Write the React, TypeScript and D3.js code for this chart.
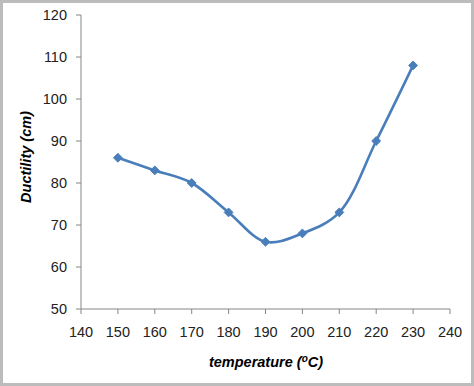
import React, { useEffect, useRef } from 'react';
import * as d3 from 'd3';

const temperatures = [150, 160, 170, 180, 190, 200, 210, 220, 230];
const ductility = [86, 83, 80, 73, 66, 68, 73, 90, 108];
const xTicks = [140, 150, 160, 170, 180, 190, 200, 210, 220, 230, 240];
const yTicks = [50, 60, 70, 80, 90, 100, 110, 120];

export default function App() {
  const svgRef = useRef<SVGSVGElement>(null);

  useEffect(() => {
    if (!svgRef.current) return;
    const svg = d3.select(svgRef.current);
    svg.selectAll('*').remove();

    const width = 474;
    const height = 386;
    const font = '"Liberation Sans", Arial, sans-serif';
    const axisColor = '#868686';
    const lineColor = '#4a7ebb';

    // outer frame
    svg.append('rect')
      .attr('x', 1.5).attr('y', 1.5)
      .attr('width', width - 3).attr('height', height - 3)
      .attr('fill', '#fff')
      .attr('stroke', '#bcbcbc')
      .attr('stroke-width', 3);

    const x = d3.scaleLinear().domain([140, 240]).range([81, 450]);
    const y = d3.scaleLinear().domain([50, 120]).range([309, 15]);

    // y axis
    svg.append('line')
      .attr('x1', x(140)).attr('x2', x(140))
      .attr('y1', y(50)).attr('y2', y(120))
      .attr('stroke', axisColor).attr('stroke-width', 1);
    svg.selectAll('.ytick')
      .data(yTicks)
      .enter()
      .append('line')
      .attr('x1', x(140) - 5).attr('x2', x(140))
      .attr('y1', d => y(d)).attr('y2', d => y(d))
      .attr('stroke', axisColor);
    svg.selectAll('.ylab')
      .data(yTicks)
      .enter()
      .append('text')
      .attr('x', x(140) - 14)
      .attr('y', d => y(d))
      .attr('dy', '0.36em')
      .attr('text-anchor', 'end')
      .style('font-family', font)
      .style('font-size', '14.5px')
      .style('fill', '#222')
      .text(d => d);

    // x axis
    svg.append('line')
      .attr('x1', x(140)).attr('x2', x(240))
      .attr('y1', y(50)).attr('y2', y(50))
      .attr('stroke', axisColor).attr('stroke-width', 1);
    svg.selectAll('.xtick')
      .data(xTicks)
      .enter()
      .append('line')
      .attr('x1', d => x(d)).attr('x2', d => x(d))
      .attr('y1', y(50)).attr('y2', y(50) + 5)
      .attr('stroke', axisColor);
    svg.selectAll('.xlab')
      .data(xTicks)
      .enter()
      .append('text')
      .attr('x', d => x(d))
      .attr('y', 337)
      .attr('text-anchor', 'middle')
      .style('font-family', font)
      .style('font-size', '14.5px')
      .style('fill', '#222')
      .text(d => d);

    // axis titles
    const xt = svg.append('text')
      .attr('x', 266)
      .attr('y', 367)
      .attr('text-anchor', 'middle')
      .style('font-family', font)
      .style('font-size', '14.5px')
      .style('font-weight', 'bold')
      .style('font-style', 'italic')
      .style('fill', '#000');
    xt.append('tspan').text('temperature (');
    xt.append('tspan').attr('dy', -5).style('font-size', '10px').text('o');
    xt.append('tspan').attr('dy', 5).text('C)');

    svg.append('text')
      .attr('transform', `translate(31, 157) rotate(-90)`)
      .attr('text-anchor', 'middle')
      .style('font-family', font)
      .style('font-size', '14.5px')
      .style('font-weight', 'bold')
      .style('font-style', 'italic')
      .style('fill', '#000')
      .text('Ductility (cm)');

    // smoothed line
    const pts = temperatures.map((t, i) => [t, ductility[i]] as [number, number]);
    const line = d3.line<[number, number]>()
      .x(d => x(d[0]))
      .y(d => y(d[1]))
      .curve(d3.curveCatmullRom.alpha(0.5));
    svg.append('path')
      .datum(pts)
      .attr('d', line)
      .attr('fill', 'none')
      .attr('stroke', lineColor)
      .attr('stroke-width', 2.6)
      .attr('stroke-linejoin', 'round');

    // diamond markers
    const diamond = d3.symbol().type(d3.symbolDiamond2).size(50);
    svg.selectAll('.marker')
      .data(pts)
      .enter()
      .append('path')
      .attr('d', diamond)
      .attr('transform', d => `translate(${x(d[0])}, ${y(d[1])})`)
      .attr('fill', lineColor)
      .attr('stroke', lineColor)
      .attr('stroke-width', 1);
  }, []);

  return (
    <svg ref={svgRef} width={474} height={386}
      style={{ position: 'absolute', left: 0, top: 0, display: 'block' }} />
  );
}
